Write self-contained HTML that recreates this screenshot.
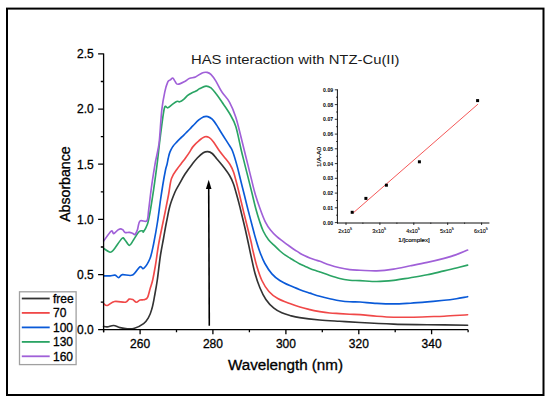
<!DOCTYPE html>
<html><head><meta charset="utf-8"><style>
html,body{margin:0;padding:0;background:#fff;}
svg{display:block;}
text{font-family:"Liberation Sans",sans-serif;fill:#000;}
.t12{font-size:12px;stroke:#000;stroke-width:0.3px;}
.t14{font-size:14px;stroke:#000;stroke-width:0.3px;}
.title{font-size:12px;fill:#1a1a1a;}
.t5{font-size:5.2px;fill:#000;font-weight:bold;}
.t5x{font-size:5.4px;fill:#000;stroke:#000;stroke-width:0.12px;}
.t6{font-size:5.8px;fill:#000;stroke:#000;stroke-width:0.15px;}
.t55{font-size:5.5px;fill:#000;font-weight:bold;}
.sup{font-size:3.6px;}
</style></head><body>
<svg width="550" height="402" viewBox="0 0 550 402">
<rect width="550" height="402" fill="#fff"/>
<rect x="7" y="8.6" width="536.5" height="386.4" fill="none" stroke="#000" stroke-width="2"/>
<path d="M103.6,326.4 C104.2,326.5 105.6,327.0 107.3,326.9 C109.0,326.8 111.5,325.4 113.6,325.5 C115.7,325.6 117.7,327.1 120.0,327.6 C122.3,328.1 124.9,328.6 127.3,328.7 C129.7,328.8 131.8,329.0 134.5,328.2 C137.2,327.4 141.3,325.3 143.6,323.6 C145.9,321.9 146.8,320.6 148.2,318.2 C149.6,315.8 150.8,312.7 151.8,309.1 C152.9,305.5 153.6,301.2 154.5,296.4 C155.4,291.5 156.3,286.9 157.3,280.0 C158.3,273.1 159.4,262.0 160.5,255.0 C161.6,248.0 162.6,243.5 163.6,238.0 C164.6,232.5 165.4,227.3 166.5,222.0 C167.6,216.7 168.5,210.9 169.9,206.0 C171.3,201.1 173.4,195.9 174.9,192.3 C176.4,188.8 177.3,187.7 179.0,184.7 C180.7,181.7 182.7,177.7 184.9,174.3 C187.1,170.9 190.1,166.9 192.2,164.2 C194.3,161.5 195.5,159.9 197.3,158.0 C199.2,156.1 201.6,153.9 203.3,152.8 C205.1,151.7 206.3,151.5 207.8,151.6 C209.3,151.7 210.7,152.3 212.2,153.5 C213.7,154.7 215.0,156.7 216.7,158.7 C218.4,160.7 220.0,162.5 222.2,165.3 C224.4,168.1 227.8,172.6 229.7,175.7 C231.6,178.8 232.2,180.3 233.5,184.0 C234.8,187.7 236.3,193.6 237.5,197.8 C238.7,202.0 239.4,205.0 240.4,209.0 C241.4,213.0 242.3,216.9 243.5,221.8 C244.7,226.7 246.1,232.8 247.3,238.5 C248.6,244.2 249.7,250.2 251.0,255.9 C252.3,261.6 253.4,267.7 254.9,273.0 C256.4,278.3 258.1,283.4 259.9,287.8 C261.7,292.2 263.6,296.1 265.9,299.5 C268.2,302.9 271.2,306.0 273.9,308.2 C276.5,310.4 279.1,311.6 281.8,312.8 C284.5,314.0 287.0,314.7 290.0,315.5 C293.0,316.3 294.8,316.9 299.7,317.6 C304.6,318.4 313.0,319.4 319.6,320.0 C326.2,320.6 332.8,320.9 339.5,321.3 C346.2,321.7 351.0,322.0 360.0,322.5 C369.0,323.0 382.4,323.7 393.6,324.1 C404.8,324.5 415.0,324.5 427.3,324.7 C439.6,324.9 460.9,325.1 467.6,325.2" fill="none" stroke="#333333" stroke-width="1.65" stroke-linejoin="round" stroke-linecap="round"/>
<path d="M103.6,303.6 C104.2,303.9 105.5,305.9 107.3,305.5 C109.1,305.1 111.5,302.1 114.5,301.5 C117.5,300.9 123.1,302.6 125.5,302.2 C127.9,301.8 127.9,299.5 129.1,299.1 C130.3,298.7 131.5,299.1 132.7,299.6 C133.9,300.1 135.2,302.1 136.4,302.2 C137.6,302.3 138.7,300.4 140.0,300.0 C141.3,299.6 143.2,300.1 144.5,299.6 C145.8,299.2 146.7,299.1 147.6,297.3 C148.5,295.6 149.2,292.0 150.0,289.1 C150.8,286.2 151.8,284.0 152.7,280.0 C153.6,276.0 154.5,270.8 155.5,265.0 C156.5,259.2 157.2,252.5 158.5,245.0 C159.8,237.5 161.8,228.3 163.5,220.0 C165.2,211.7 167.2,201.9 168.5,195.0 C169.8,188.1 170.0,182.9 171.5,178.5 C173.0,174.1 175.9,170.9 177.5,168.5 C179.1,166.1 179.7,165.8 181.0,164.0 C182.3,162.2 184.0,160.1 185.5,158.0 C187.0,155.9 188.7,153.5 189.9,151.6 C191.2,149.7 191.5,148.4 193.0,146.6 C194.5,144.8 196.8,142.4 198.8,140.8 C200.8,139.2 203.1,137.3 204.8,136.8 C206.6,136.3 207.8,136.7 209.3,137.6 C210.8,138.5 212.0,140.0 213.7,142.3 C215.4,144.6 217.7,148.5 219.7,151.3 C221.7,154.1 224.2,156.8 225.9,159.0 C227.6,161.2 228.7,162.3 230.0,164.5 C231.3,166.7 232.4,168.7 233.7,172.4 C234.9,176.1 236.2,181.6 237.5,186.5 C238.8,191.4 240.0,197.0 241.2,201.8 C242.4,206.6 243.4,211.0 244.5,215.5 C245.6,220.0 246.7,224.5 247.8,228.8 C248.9,233.1 250.1,237.8 251.0,241.5 C251.9,245.2 252.0,246.8 253.0,251.0 C254.0,255.2 255.4,261.6 256.9,266.5 C258.4,271.4 259.9,276.3 261.9,280.5 C263.9,284.7 266.2,288.5 268.9,291.5 C271.5,294.5 274.3,296.5 277.8,298.5 C281.3,300.5 286.1,302.1 289.8,303.5 C293.5,304.9 296.5,306.0 299.9,307.0 C303.2,308.0 306.6,308.8 309.9,309.6 C313.2,310.4 316.5,311.0 319.8,311.6 C323.1,312.2 326.5,312.7 329.8,313.0 C333.1,313.3 336.4,313.4 339.7,313.6 C343.0,313.8 346.3,314.0 349.7,314.2 C353.1,314.4 355.5,314.3 360.0,314.6 C364.5,314.9 371.2,315.8 376.8,316.2 C382.4,316.6 388.0,317.0 393.6,317.2 C399.2,317.4 404.8,317.3 410.4,317.2 C416.0,317.1 421.7,316.9 427.3,316.7 C432.9,316.5 437.4,316.5 444.1,316.2 C450.8,315.9 463.7,315.0 467.6,314.8" fill="none" stroke="#f04848" stroke-width="1.65" stroke-linejoin="round" stroke-linecap="round"/>
<path d="M103.7,275.9 C104.8,275.9 108.1,276.0 110.0,275.9 C111.9,275.8 113.5,274.8 115.0,275.1 C116.5,275.4 117.5,277.7 118.7,277.6 C119.9,277.5 120.1,275.0 122.4,274.6 C124.7,274.2 129.6,276.4 132.5,275.1 C135.4,273.8 138.1,267.8 140.0,266.7 C141.9,265.6 142.0,269.8 143.7,268.4 C145.4,267.0 148.3,262.6 150.0,258.5 C151.7,254.3 152.4,249.6 153.7,243.5 C154.9,237.4 156.4,229.2 157.5,222.0 C158.6,214.8 159.6,206.2 160.5,200.0 C161.4,193.8 162.0,190.0 162.8,185.0 C163.6,180.0 164.8,173.4 165.5,170.0 C166.2,166.6 166.5,166.5 167.0,164.5 C167.5,162.5 167.8,160.1 168.3,158.0 C168.8,155.9 169.2,153.8 170.0,151.9 C170.8,150.0 171.8,148.1 172.9,146.4 C174.1,144.7 175.4,143.5 176.9,141.9 C178.4,140.3 180.4,138.4 181.9,136.9 C183.4,135.4 184.6,134.3 185.9,133.0 C187.2,131.7 188.8,130.2 189.9,129.0 C191.1,127.8 191.3,127.4 192.8,125.9 C194.3,124.4 197.1,121.4 198.8,119.9 C200.6,118.4 201.8,117.5 203.3,116.9 C204.8,116.4 206.3,116.2 207.8,116.6 C209.3,117.0 210.7,117.8 212.2,119.2 C213.7,120.6 215.0,122.6 216.7,125.1 C218.3,127.6 219.9,130.6 222.1,134.0 C224.2,137.4 227.9,143.0 229.6,145.8 C231.3,148.6 231.3,147.8 232.5,151.0 C233.7,154.2 235.5,160.1 236.8,164.9 C238.2,169.7 239.3,175.0 240.6,180.0 C241.8,185.0 243.1,189.9 244.3,194.8 C245.5,199.8 246.7,204.7 248.0,209.7 C249.3,214.7 250.7,220.0 252.0,225.0 C253.3,230.0 254.6,235.0 255.9,239.5 C257.2,244.0 258.4,248.0 259.9,252.0 C261.4,256.0 262.9,259.9 264.9,263.5 C266.9,267.1 269.4,271.1 271.9,273.9 C274.4,276.7 276.8,278.6 279.8,280.5 C282.8,282.4 286.5,284.1 289.8,285.6 C293.1,287.1 296.5,288.4 299.9,289.7 C303.2,290.9 306.6,292.0 309.9,293.1 C313.2,294.2 316.5,295.4 319.8,296.3 C323.1,297.2 326.5,298.0 329.8,298.7 C333.1,299.4 336.4,300.2 339.7,300.7 C343.0,301.2 346.3,301.6 349.7,301.8 C353.1,302.0 355.5,301.7 360.0,302.0 C364.5,302.3 371.2,303.1 376.8,303.4 C382.4,303.7 388.0,303.9 393.6,303.9 C399.2,303.9 404.8,303.5 410.4,303.2 C416.0,302.9 421.7,302.4 427.3,301.9 C432.9,301.4 439.2,300.8 444.1,300.3 C449.0,299.8 452.5,299.3 456.4,298.7 C460.3,298.1 465.7,297.0 467.6,296.7" fill="none" stroke="#0a5ad8" stroke-width="1.65" stroke-linejoin="round" stroke-linecap="round"/>
<path d="M103.7,248.5 C104.8,249.1 108.3,252.0 110.0,252.2 C111.7,252.4 111.7,252.1 113.7,249.8 C115.7,247.5 120.0,240.2 121.9,238.5 C123.8,236.8 123.7,238.7 124.9,239.8 C126.2,240.9 128.0,245.3 129.4,245.3 C130.8,245.3 132.1,242.0 133.6,239.8 C135.1,237.6 137.2,233.5 138.7,232.0 C140.2,230.5 141.6,230.8 142.4,230.8 C143.2,230.8 142.7,232.9 143.5,231.8 C144.3,230.7 146.3,227.3 147.4,224.2 C148.5,221.1 148.9,218.7 149.9,213.0 C150.9,207.3 152.4,197.8 153.6,189.8 C154.8,181.8 155.9,173.3 157.0,165.0 C158.1,156.7 158.9,147.9 159.9,140.0 C160.9,132.1 162.0,123.2 162.8,117.7 C163.6,112.2 164.0,108.5 164.8,106.8 C165.6,105.1 166.6,108.1 167.8,107.8 C169.0,107.5 170.3,105.9 171.8,104.8 C173.3,103.7 175.4,101.9 176.7,101.4 C178.0,100.9 178.5,102.1 179.7,101.8 C180.9,101.5 182.4,100.5 183.7,99.4 C185.0,98.3 186.4,96.5 187.7,95.4 C189.0,94.3 190.3,93.6 191.7,92.9 C193.1,92.2 194.7,91.8 196.0,91.1 C197.3,90.4 198.1,89.4 199.8,88.6 C201.5,87.8 204.1,86.2 206.0,86.1 C207.9,86.0 209.3,86.7 211.0,87.9 C212.7,89.2 214.1,91.2 215.9,93.6 C217.8,96.0 219.8,99.0 222.1,102.3 C224.4,105.6 227.3,109.5 229.6,113.5 C231.9,117.5 233.9,120.4 235.8,126.5 C237.7,132.6 239.7,143.6 241.2,150.0 C242.7,156.4 243.7,159.9 244.9,164.9 C246.2,169.9 247.4,174.9 248.7,179.9 C249.9,184.9 251.2,189.8 252.4,194.8 C253.6,199.8 254.9,205.3 256.1,209.7 C257.3,214.1 258.3,217.4 259.5,221.0 C260.7,224.6 261.7,227.9 263.2,231.0 C264.7,234.1 266.5,237.2 268.5,239.7 C270.5,242.2 273.1,244.3 275.0,246.2 C276.9,248.1 278.4,249.6 280.0,251.0 C281.6,252.4 283.2,253.7 284.9,254.9 C286.5,256.1 288.2,257.0 289.9,258.0 C291.6,259.0 293.2,260.1 294.9,261.1 C296.6,262.1 298.2,263.1 299.9,264.0 C301.5,264.9 303.1,265.5 304.8,266.2 C306.5,266.9 308.1,267.7 309.8,268.4 C311.5,269.1 313.1,269.7 314.8,270.3 C316.5,270.9 317.5,271.1 320.0,272.0 C322.5,272.9 326.5,274.4 329.8,275.5 C333.1,276.6 336.4,277.7 339.7,278.5 C343.0,279.3 346.3,279.8 349.7,280.2 C353.1,280.6 355.5,280.4 360.0,280.6 C364.5,280.8 371.2,281.5 376.8,281.5 C382.4,281.5 388.0,281.0 393.6,280.4 C399.2,279.8 404.8,278.6 410.4,277.7 C416.0,276.8 421.7,275.9 427.3,274.8 C432.9,273.7 439.2,272.0 444.1,270.9 C449.0,269.8 452.5,269.0 456.4,268.0 C460.3,267.0 465.7,265.6 467.6,265.1" fill="none" stroke="#2aa464" stroke-width="1.65" stroke-linejoin="round" stroke-linecap="round"/>
<path d="M103.7,241.0 C105.0,239.3 109.5,232.3 111.2,231.1 C112.9,229.9 112.5,233.9 113.7,233.6 C115.0,233.3 117.2,230.1 118.7,229.4 C120.2,228.7 121.4,228.9 122.4,229.4 C123.5,229.9 123.8,231.9 125.0,232.4 C126.2,232.9 128.2,232.2 129.4,232.4 C130.7,232.6 131.6,233.0 132.5,233.3 C133.4,233.7 134.2,235.1 135.0,234.5 C135.8,233.9 136.7,231.8 137.5,229.6 C138.3,227.3 138.4,222.5 140.0,221.0 C141.6,219.5 145.5,222.7 146.9,220.8 C148.3,218.9 148.0,214.9 148.7,209.7 C149.4,204.5 150.1,197.3 151.1,189.8 C152.1,182.3 153.8,171.5 154.9,164.9 C156.0,158.3 157.2,154.2 157.9,150.0 C158.7,145.8 158.8,146.7 159.4,140.0 C160.1,133.3 160.9,117.8 161.8,109.8 C162.7,101.8 163.8,96.6 164.8,91.9 C165.8,87.2 166.9,83.9 167.8,81.9 C168.7,79.9 169.6,80.6 170.4,79.9 C171.2,79.2 172.1,77.8 172.8,78.0 C173.5,78.2 174.2,79.9 174.8,80.9 C175.5,81.9 175.9,83.4 176.7,83.9 C177.5,84.4 178.4,84.3 179.7,83.9 C181.0,83.5 183.0,82.4 184.7,81.5 C186.4,80.6 187.9,79.0 189.7,78.3 C191.5,77.5 193.4,77.9 195.5,77.0 C197.6,76.1 200.2,73.7 202.2,72.9 C204.1,72.1 205.8,72.2 207.2,72.4 C208.6,72.7 209.4,73.0 210.9,74.4 C212.4,75.9 214.0,78.1 215.9,81.1 C217.8,84.1 219.8,88.8 222.1,92.3 C224.4,95.8 227.3,98.1 229.6,102.3 C231.9,106.5 234.0,111.8 235.8,117.2 C237.6,122.7 239.1,129.5 240.5,135.0 C241.9,140.5 243.0,145.0 244.2,150.0 C245.4,155.0 246.7,159.9 247.9,164.9 C249.1,169.9 250.3,174.9 251.6,179.9 C252.8,184.9 254.0,190.1 255.4,194.8 C256.8,199.5 258.2,203.7 259.9,208.2 C261.5,212.7 263.5,218.2 265.3,221.8 C267.1,225.4 268.6,227.6 270.5,230.0 C272.4,232.4 274.4,234.4 276.6,236.4 C278.8,238.4 281.4,240.1 283.6,241.8 C285.8,243.5 288.0,245.1 289.9,246.5 C291.8,247.9 293.2,248.9 294.9,250.0 C296.6,251.1 298.2,252.2 299.9,253.2 C301.5,254.2 303.1,255.0 304.8,255.8 C306.5,256.6 308.1,257.3 309.8,258.0 C311.5,258.7 313.1,259.2 314.8,259.8 C316.5,260.4 317.5,260.4 320.0,261.3 C322.5,262.2 326.5,263.9 329.8,265.0 C333.1,266.1 336.4,267.0 339.7,267.8 C343.0,268.6 346.3,269.2 349.7,269.6 C353.1,270.0 355.5,270.0 360.0,270.2 C364.5,270.4 371.2,271.1 376.8,270.9 C382.4,270.7 388.0,270.0 393.6,269.1 C399.2,268.2 404.8,266.9 410.4,265.8 C416.0,264.7 421.7,263.6 427.3,262.4 C432.9,261.2 439.2,259.7 444.1,258.4 C449.0,257.1 452.5,256.0 456.4,254.6 C460.3,253.2 465.7,250.8 467.6,250.1" fill="none" stroke="#a060d8" stroke-width="1.65" stroke-linejoin="round" stroke-linecap="round"/>
<path d="M103.6,53.44999999999999 V332.2 M103.0,329.7 H468.1" stroke="#000" stroke-width="1.3" fill="none"/>
<path d="M98.1,329.7 H103.6 M100.8,302.1 H103.6 M98.1,274.6 H103.6 M100.8,247.0 H103.6 M98.1,219.4 H103.6 M100.8,191.8 H103.6 M98.1,164.2 H103.6 M100.8,136.7 H103.6 M98.1,109.1 H103.6 M100.8,81.5 H103.6 M98.1,53.9 H103.6 M103.6,329.7 V332.2 M140.1,329.7 V334.2 M176.5,329.7 V332.2 M212.9,329.7 V334.2 M249.4,329.7 V332.2 M285.9,329.7 V334.2 M322.3,329.7 V332.2 M358.8,329.7 V334.2 M395.2,329.7 V332.2 M431.6,329.7 V334.2 M468.1,329.7 V332.2" stroke="#000" stroke-width="1.3" fill="none"/>
<text x="93.8" y="334.0" text-anchor="end" class="t12">0.0</text>
<text x="93.8" y="278.9" text-anchor="end" class="t12">0.5</text>
<text x="93.8" y="223.7" text-anchor="end" class="t12">1.0</text>
<text x="93.8" y="168.6" text-anchor="end" class="t12">1.5</text>
<text x="93.8" y="113.4" text-anchor="end" class="t12">2.0</text>
<text x="93.8" y="58.2" text-anchor="end" class="t12">2.5</text>
<text x="140.1" y="347.7" text-anchor="middle" class="t12">260</text>
<text x="212.9" y="347.7" text-anchor="middle" class="t12">280</text>
<text x="285.9" y="347.7" text-anchor="middle" class="t12">300</text>
<text x="358.8" y="347.7" text-anchor="middle" class="t12">320</text>
<text x="431.6" y="347.7" text-anchor="middle" class="t12">340</text>
<text x="228" y="370" class="t14" textLength="115" lengthAdjust="spacingAndGlyphs">Wavelength (nm)</text>
<text transform="translate(69.6,221.8) rotate(-90)" class="t14" textLength="75.4" lengthAdjust="spacingAndGlyphs">Absorbance</text>
<text x="191" y="63.5" class="title" textLength="208.5" lengthAdjust="spacingAndGlyphs">HAS interaction with NTZ-Cu(II)</text>
<path d="M208.7,187 L209.3,325.8" stroke="#000" stroke-width="1.6" fill="none"/>
<path d="M208.7,179.8 L205.9,188.9 L211.5,188.9 Z" fill="#000"/>
<path d="M337.4,89.3 V223.0 H489.4" stroke="#111" stroke-width="1" fill="none"/>
<path d="M334.8,222.6 H337.4 M336.1,215.2 H337.4 M334.8,207.8 H337.4 M336.1,200.5 H337.4 M334.8,193.1 H337.4 M336.1,185.7 H337.4 M334.8,178.3 H337.4 M336.1,171.0 H337.4 M334.8,163.6 H337.4 M336.1,156.2 H337.4 M334.8,148.8 H337.4 M336.1,141.5 H337.4 M334.8,134.1 H337.4 M336.1,126.7 H337.4 M334.8,119.3 H337.4 M336.1,112.0 H337.4 M334.8,104.6 H337.4 M336.1,97.2 H337.4 M334.8,89.8 H337.4 M346.0,222.6 V225.0 M362.9,222.6 V223.8 M379.9,222.6 V225.0 M396.9,222.6 V223.8 M413.8,222.6 V225.0 M430.8,222.6 V223.8 M447.7,222.6 V225.0 M464.6,222.6 V223.8 M481.6,222.6 V225.0 M337.5,222.6 V223.8" stroke="#000" stroke-width="0.8" fill="none"/>
<text x="333.2" y="224.5" text-anchor="end" class="t5">0.00</text>
<text x="333.2" y="209.8" text-anchor="end" class="t5">0.01</text>
<text x="333.2" y="195.0" text-anchor="end" class="t5">0.02</text>
<text x="333.2" y="180.2" text-anchor="end" class="t5">0.03</text>
<text x="333.2" y="165.5" text-anchor="end" class="t5">0.04</text>
<text x="333.2" y="150.8" text-anchor="end" class="t5">0.05</text>
<text x="333.2" y="136.0" text-anchor="end" class="t5">0.06</text>
<text x="333.2" y="121.2" text-anchor="end" class="t5">0.07</text>
<text x="333.2" y="106.5" text-anchor="end" class="t5">0.08</text>
<text x="333.2" y="91.8" text-anchor="end" class="t5">0.09</text>
<text x="345.2" y="232.6" text-anchor="middle" class="t5x">2x10<tspan class="sup" dy="-2.4">5</tspan></text>
<text x="379.1" y="232.6" text-anchor="middle" class="t5x">3x10<tspan class="sup" dy="-2.4">5</tspan></text>
<text x="413.0" y="232.6" text-anchor="middle" class="t5x">4x10<tspan class="sup" dy="-2.4">5</tspan></text>
<text x="446.9" y="232.6" text-anchor="middle" class="t5x">5x10<tspan class="sup" dy="-2.4">5</tspan></text>
<text x="480.8" y="232.6" text-anchor="middle" class="t5x">6x10<tspan class="sup" dy="-2.4">5</tspan></text>
<text x="414" y="242.4" text-anchor="middle" class="t6" textLength="31.5" lengthAdjust="spacingAndGlyphs">1/[complex]</text>
<text transform="translate(320.5,167.1) rotate(-90)" class="t6" textLength="20.3" lengthAdjust="spacingAndGlyphs">1/A-A0</text>
<path d="M353.1,213 L477.9,104.2" stroke="#f55858" stroke-width="1" fill="none"/>
<rect x="350.7" y="210.8" width="3" height="3" fill="#000"/>
<rect x="364.4" y="196.9" width="3" height="3" fill="#000"/>
<rect x="384.9" y="183.7" width="3" height="3" fill="#000"/>
<rect x="417.9" y="160.3" width="3" height="3" fill="#000"/>
<rect x="476.1" y="99.1" width="3" height="3" fill="#000"/>
<rect x="19.5" y="291.8" width="56.6" height="72.8" fill="#fff" stroke="#a0a0a0" stroke-width="1.3"/>
<path d="M21.8,298.5 H49.7" stroke="#333333" stroke-width="1.8"/>
<text x="53" y="302.8" class="t12">free</text>
<path d="M21.8,312.9 H49.7" stroke="#f04848" stroke-width="1.8"/>
<text x="53" y="317.2" class="t12">70</text>
<path d="M21.8,327.4 H49.7" stroke="#0a5ad8" stroke-width="1.8"/>
<text x="53" y="331.7" class="t12">100</text>
<path d="M21.8,341.9 H49.7" stroke="#2aa464" stroke-width="1.8"/>
<text x="53" y="346.2" class="t12">130</text>
<path d="M21.8,356.3 H49.7" stroke="#a060d8" stroke-width="1.8"/>
<text x="53" y="360.6" class="t12">160</text>
</svg>
</body></html>
